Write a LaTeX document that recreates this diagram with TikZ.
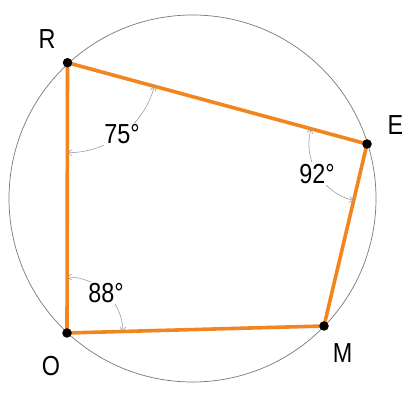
\documentclass[tikz,border=0pt]{standalone}
\usepackage{fontspec}
\setmainfont{Liberation Sans}
\newfontfamily\lblfont[FakeStretch=0.85]{Liberation Sans}
\usetikzlibrary{angles,arrows.meta}
\definecolor{quadorange}{RGB}{242,133,30}
\definecolor{circgray}{RGB}{120,120,120}
\tikzset{
  vertex/.style={circle,fill=black,inner sep=0pt,minimum size=9.5pt},
  letter/.style={inner sep=0pt,font=\lblfont\fontsize{27.5}{27.5}\selectfont},
  deg/.style={fill=white,inner sep=1.5pt,font=\lblfont\fontsize{27.5}{27.5}\selectfont},
  angmark/.style={draw=gray!75,line width=0.6pt,
    {Straight Barb[length=4pt,width=6pt]}-{Straight Barb[length=4pt,width=6pt]}}
}

\begin{document}
\begin{tikzpicture}[x=1pt,y=1pt]
              \useasboundingbox (0,0) rectangle (411,411);
              \coordinate (C) at (192.5,212.5);
              \draw[circgray,line width=0.7pt] (C) circle [radius=183.5];
              \coordinate (R) at (67.5,348.3);
              \coordinate (E) at (367,267);
              \coordinate (M) at (324,85);
              \coordinate (O) at (67,78);
              \draw[quadorange,line width=3.6pt,line join=round] (R) -- (E) -- (M) -- (O) -- cycle;
              \pic[angmark,angle radius=90pt] {angle=O--R--E};
              \pic[angmark,angle radius=58pt] {angle=R--E--M};
              \pic[angmark,angle radius=56pt] {angle=M--O--R};
              \node[deg] (aR) at ([shift={(-52.6:90)}]R) {75°};
              \node[deg] (aE) at ([shift={(210.7:58)}]E) {92°};
              \node[deg] (aO) at ([shift={(45.7:56)}]O) {88°};
              \foreach \p in {R,E,M,O}
                \node[vertex] (d\p) at (\p) {};
              \node[letter] (lR) at (47,371.7) {R};
              \node[letter] (lE) at (395.5,286) {E};
              \node[letter] (lM) at (342.5,57.5) {M};
              \node[letter] (lO) at (51,45) {O};
          \end{tikzpicture}
\end{document}
